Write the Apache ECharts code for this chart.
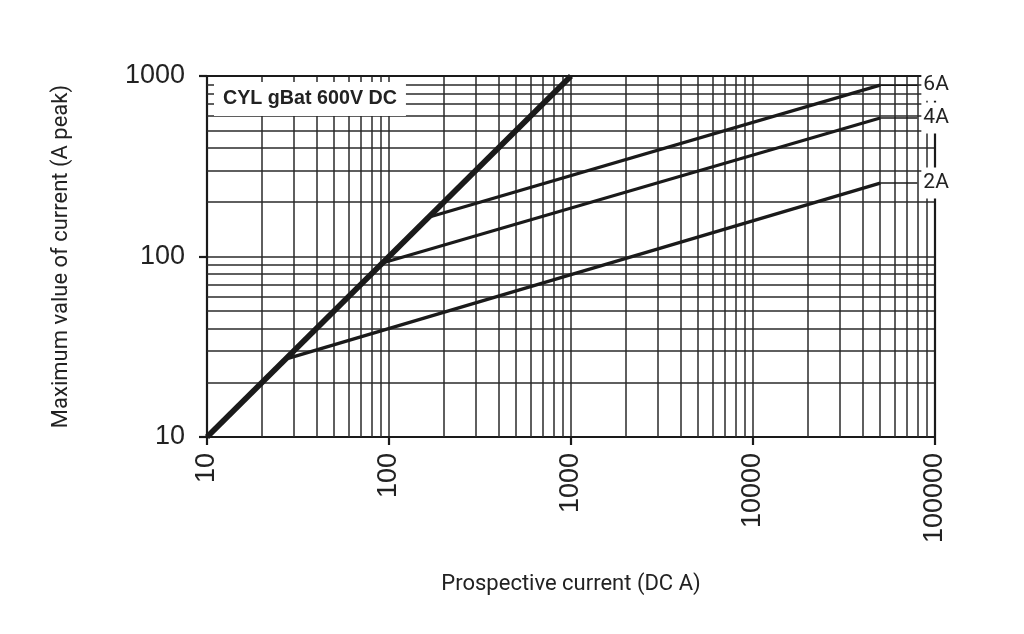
<!DOCTYPE html>
<html>
<head>
<meta charset="utf-8">
<script src="https://cdn.jsdelivr.net/npm/echarts@6/dist/echarts.min.js"></script>
<style>
  html, body { margin: 0; padding: 0; background: #fff; }
  #main { width: 1024px; height: 634px; }
</style>
</head>
<body>
<div id="main"></div>
<script>
// 数据：对数坐标下各曲线的端点
var limitLine = [[10, 10], [1000, 1000]];       // 截断电流上限（粗线）
var rating6A = [[165, 165], [50000, 890]];
var rating4A = [[92, 92], [50000, 585]];
var rating2A = [[27, 27], [50000, 255]];
var ratingNames = ['6A', '4A', '2A'];
var leaderEnd = 80000; // 标注引线终点

// 网格线（十进制之间的刻度）
var xGridVals = [20, 30, 40, 50, 60, 70, 80, 90,
  200, 300, 400, 500, 600, 700, 800, 900,
  2000, 3000, 4000, 5000, 6000, 7000, 8000, 9000,
  20000, 30000, 40000, 50000, 60000, 70000, 80000, 90000];
var yGridVals = [20, 30, 40, 50, 60, 70, 80, 90,
  200, 300, 400, 500, 600, 700, 800, 900];

var ink = '#1a1a1a';
var gridColor = '#2a2a2a';

var gridMarks = [];
xGridVals.forEach(function (v) { gridMarks.push({ xAxis: v }); });
yGridVals.forEach(function (v) { gridMarks.push({ yAxis: v }); });
// 上边框和右边框
gridMarks.push({ yAxis: 1000, lineStyle: { width: 2.2, color: ink } });
gridMarks.push({ xAxis: 100000, lineStyle: { width: 2.2, color: ink } });

var ratings = [rating6A, rating4A, rating2A];
var series = [
  {
    name: 'grid',
    type: 'line',
    data: [],
    z: 1,
    silent: true,
    markLine: {
      z: 1,
      silent: true,
      symbol: 'none',
      animation: false,
      label: { show: false },
      lineStyle: { type: 'solid', color: gridColor, width: 1.5 },
      data: gridMarks
    }
  },
  {
    name: 'limit',
    type: 'line',
    data: limitLine,
    symbol: 'none',
    z: 4,
    lineStyle: { color: ink, width: 5.8 }
  }
];
ratings.forEach(function (r, i) {
  series.push({
    name: ratingNames[i],
    type: 'line',
    data: r,
    symbol: 'none',
    z: 3,
    lineStyle: { color: ink, width: 3.2 }
  });
  var end = r[r.length - 1];
  series.push({
    name: ratingNames[i] + '-leader',
    type: 'line',
    data: [end, [leaderEnd, end[1]]],
    symbol: 'none',
    z: 5,
    lineStyle: { color: ink, width: 1.5 },
    endLabel: {
      show: true,
      formatter: ratingNames[i],
      fontFamily: 'Roboto',
      fontSize: 21,
      color: '#222',
      distance: 4,
      backgroundColor: '#fff',
      padding: [5, 14, 5, 2]
    }
  });
});

function plainNum(v) { return String(Math.round(v)); }

var myChart = echarts.init(document.getElementById('main'));
myChart.setOption({
  animation: false,
  title: {
    text: 'CYL gBat 600V DC',
    left: 214,
    top: 82,
    backgroundColor: '#fff',
    padding: [7, 9, 7, 9],
    z: 10,
    textStyle: {
      fontFamily: 'Liberation Sans',
      fontWeight: 'bold',
      fontSize: 19.7,
      lineHeight: 20,
      color: '#222'
    }
  },
  grid: { left: 207, right: 89, top: 76, bottom: 197 },
  xAxis: {
    type: 'log',
    logBase: 10,
    min: 10,
    max: 100000,
    name: 'Prospective current (DC A)',
    nameLocation: 'middle',
    nameGap: 136,
    nameTextStyle: { fontFamily: 'Roboto', fontSize: 22, color: '#222' },
    axisLine: { show: true, lineStyle: { color: ink, width: 2.2 } },
    axisTick: { show: true, inside: false, length: 8, lineStyle: { color: ink, width: 2.2 } },
    axisLabel: {
      rotate: 90,
      margin: 16,
      formatter: plainNum,
      fontFamily: 'Liberation Sans',
      fontSize: 27,
      color: '#222'
    },
    splitLine: { show: true, lineStyle: { color: gridColor, width: 1.5 } },
    minorTick: { show: false },
    minorSplitLine: { show: false }
  },
  yAxis: {
    type: 'log',
    logBase: 10,
    min: 10,
    max: 1000,
    name: 'Maximum value of current (A peak)',
    nameLocation: 'middle',
    nameGap: 135,
    nameTextStyle: { fontFamily: 'Roboto', fontSize: 22, color: '#222' },
    axisLine: { show: true, lineStyle: { color: ink, width: 2.2 } },
    axisTick: { show: true, inside: false, length: 8, lineStyle: { color: ink, width: 2.2 } },
    axisLabel: {
      margin: 22,
      formatter: plainNum,
      fontFamily: 'Liberation Sans',
      fontSize: 27,
      color: '#222'
    },
    splitLine: { show: true, lineStyle: { color: gridColor, width: 1.5 } },
    minorTick: { show: false },
    minorSplitLine: { show: false }
  },
  series: series
});
</script>
</body>
</html>
